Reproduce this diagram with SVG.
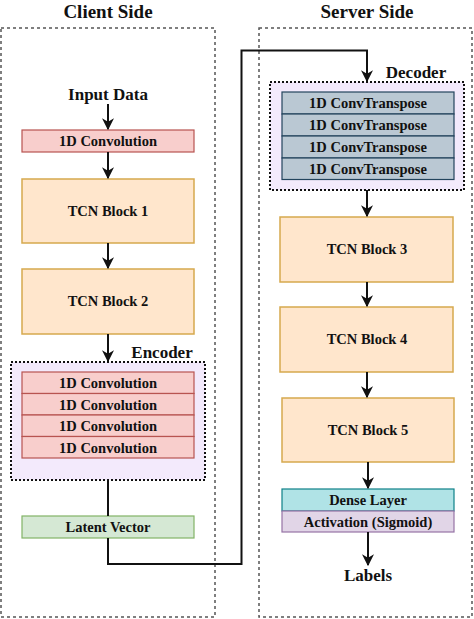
<svg xmlns="http://www.w3.org/2000/svg" width="474" height="619" viewBox="0 0 474 619">
<defs>
<style>
text{font-family:"Liberation Serif","Times New Roman",serif;font-weight:bold;fill:#111;text-anchor:middle;}
.t19{font-size:19px}
.t17{font-size:17px}
.t14{font-size:14.5px}
.side{fill:none;stroke:#555;stroke-width:1.5;stroke-dasharray:3 3}
.grp{fill:#f3eafc;stroke:#111;stroke-width:2;stroke-dasharray:2 2}
.conv{fill:#f8cecc;stroke:#b85450;stroke-width:1.2}
.tcn{fill:#ffe6cc;stroke:#d6a94e;stroke-width:1.5}
.tr{fill:#bac8d3;stroke:#23445d;stroke-width:1.2}
.lat{fill:#d5e8d4;stroke:#82b366;stroke-width:1.2}
.dense{fill:#b0e3e6;stroke:#0e8088;stroke-width:1.2}
.act{fill:#e1d5e7;stroke:#9673a6;stroke-width:1.2}
.wire{fill:none;stroke:#111;stroke-width:2}
</style>
<marker id="ah" viewBox="0 0 10 10" refX="9" refY="5" markerWidth="6" markerHeight="6" orient="auto" markerUnits="strokeWidth">
<path d="M0,0 L10,5 L0,10 L3,5 z" fill="#111"/>
</marker>
</defs>
<rect width="474" height="619" fill="#fff"/>
<g id="client-side">
<rect class="side" x="1" y="28" width="214" height="589"/>
<text class="t19" x="108" y="18">Client Side</text>
</g>
<g id="server-side">
<rect class="side" x="259" y="28" width="213" height="589"/>
<text class="t19" x="367" y="18">Server Side</text>
</g>
<g id="input-data"><text class="t17" x="108" y="100">Input Data</text></g>
<g id="conv1"><rect class="conv" x="22" y="130" width="172" height="22"/><text class="t14" x="108" y="146">1D Convolution</text></g>
<g id="tcn1"><rect class="tcn" x="22" y="179" width="172" height="64"/><text class="t14" x="108" y="216">TCN Block 1</text></g>
<g id="tcn2"><rect class="tcn" x="22" y="269" width="172" height="65"/><text class="t14" x="108" y="306">TCN Block 2</text></g>
<g id="encoder">
<rect class="grp" x="11" y="362" width="194" height="118"/>
<text class="t17" x="162" y="358">Encoder</text>
<rect class="conv" x="22" y="372" width="172" height="21.5"/><text class="t14" x="108" y="388">1D Convolution</text>
<rect class="conv" x="22" y="393.5" width="172" height="21.5"/><text class="t14" x="108" y="409.5">1D Convolution</text>
<rect class="conv" x="22" y="415" width="172" height="21.5"/><text class="t14" x="108" y="431">1D Convolution</text>
<rect class="conv" x="22" y="436.5" width="172" height="21.5"/><text class="t14" x="108" y="452.5">1D Convolution</text>
</g>
<g id="latent"><rect class="lat" x="22" y="516" width="172" height="22"/><text class="t14" x="108" y="532">Latent Vector</text></g>
<g id="decoder">
<rect class="grp" x="270" y="82" width="194" height="108"/>
<text class="t17" x="416" y="78">Decoder</text>
<rect class="tr" x="282" y="92" width="172" height="22"/><text class="t14" x="368" y="108">1D ConvTranspose</text>
<rect class="tr" x="282" y="114" width="172" height="22"/><text class="t14" x="368" y="130">1D ConvTranspose</text>
<rect class="tr" x="282" y="136" width="172" height="22"/><text class="t14" x="368" y="152">1D ConvTranspose</text>
<rect class="tr" x="282" y="158" width="172" height="21.5"/><text class="t14" x="368" y="174">1D ConvTranspose</text>
</g>
<g id="tcn3"><rect class="tcn" x="280" y="217" width="173" height="65"/><text class="t14" x="367" y="254">TCN Block 3</text></g>
<g id="tcn4"><rect class="tcn" x="280" y="307" width="173" height="65"/><text class="t14" x="367" y="344">TCN Block 4</text></g>
<g id="tcn5"><rect class="tcn" x="282" y="398" width="172" height="64"/><text class="t14" x="368" y="435">TCN Block 5</text></g>
<g id="dense"><rect class="dense" x="282" y="489" width="172" height="22"/><text class="t14" x="368" y="505">Dense Layer</text></g>
<g id="activation"><rect class="act" x="282" y="511" width="172" height="21"/><text class="t14" x="368" y="527">Activation (Sigmoid)</text></g>
<g id="labels"><text class="t17" x="368" y="581">Labels</text></g>
<g id="connectors">
<path class="wire" d="M108,104 V129" marker-end="url(#ah)"/>
<path class="wire" d="M108,152 V178" marker-end="url(#ah)"/>
<path class="wire" d="M108,243 V268" marker-end="url(#ah)"/>
<path class="wire" d="M108,334 V361" marker-end="url(#ah)"/>
<path class="wire" d="M108,480 V516"/>
<path class="wire" d="M108,538 V564 H241.5 V50.5 H367 V81" marker-end="url(#ah)"/>
<path class="wire" d="M367,190 V216" marker-end="url(#ah)"/>
<path class="wire" d="M367,282 V306" marker-end="url(#ah)"/>
<path class="wire" d="M367,372 V397" marker-end="url(#ah)"/>
<path class="wire" d="M368,462 V488" marker-end="url(#ah)"/>
<path class="wire" d="M368,532 V565" marker-end="url(#ah)"/>
</g>
</svg>
